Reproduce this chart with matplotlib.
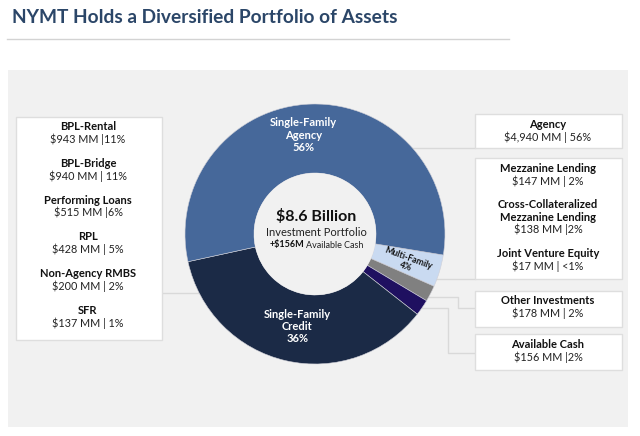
import matplotlib
matplotlib.use('Agg')
import matplotlib.pyplot as plt
from matplotlib.patches import Rectangle
import numpy as np

# ── data ────────────────────────────────────────────────────────────────
slice_names = ['Multi-Family', 'Other Investments', 'Available Cash',
               'Single-Family\nCredit', 'Single-Family\nAgency']
slice_pcts = [4, 2, 2, 36, 56]
slice_colors = ['#C9DAF1', '#808080', '#1F1060', '#1B2A46', '#46689A']

left_names = ['BPL-Rental', 'BPL-Bridge', 'Performing Loans', 'RPL',
              'Non-Agency RMBS', 'SFR']
left_values = ['$943 MM |11%', '$940 MM | 11%', '$515 MM |6%', '$428 MM | 5%',
               '$200 MM | 2%', '$137 MM | 1%']

agency_name, agency_value = 'Agency', '$4,940 MM | 56%'
mf_names = ['Mezzanine Lending', 'Cross-Collateralized\nMezzanine Lending',
            'Joint Venture Equity']
mf_values = ['$147 MM | 2%', '$138 MM |2%', '$17 MM | <1%']
other_name, other_value = 'Other Investments', '$178 MM | 2%'
cash_name, cash_value = 'Available Cash', '$156 MM |2%'

title = 'NYMT Holds a Diversified Portfolio of Assets'
W, H = 640, 436

plt.rcParams['font.family'] = ['Lato', 'DejaVu Sans']

fig = plt.figure(figsize=(W / 100, H / 100), dpi=100)
fig.patch.set_facecolor('white')
ax = fig.add_axes([0, 0, 1, 1])


def Y(py):
    # pixel row (from top) -> data y
    return H - py


LINE = '#D9D9D9'
BOX_EDGE = '#DEDEDE'

# title and rule
ax.text(12, Y(18), title, fontsize=13.8, fontweight='bold', color='#2B4668',
        ha='left', va='center')
ax.plot([7, 509], [Y(39), Y(39)], color='#D3D3D3', lw=1)

# grey panel
ax.add_patch(Rectangle((8, Y(427)), 620, 357, facecolor='#F1F1F1',
                       edgecolor='none', zorder=0))

# connector lines
ax.plot([162, 300], [Y(293), Y(293)], color=LINE, lw=1, zorder=1)
ax.plot([400, 475], [Y(148), Y(148)], color=LINE, lw=1, zorder=1)
ax.plot([400, 475], [Y(279), Y(279)], color=LINE, lw=1, zorder=1)
ax.plot([420, 458, 458, 475], [Y(297), Y(297), Y(308), Y(308)],
        color=LINE, lw=1, zorder=1)
ax.plot([410, 448, 448, 475], [Y(308), Y(308), Y(353), Y(353)],
        color=LINE, lw=1, zorder=1)

# donut
cx, cy, r_out, r_in = 315, Y(234), 130, 61
wedges, _ = ax.pie(slice_pcts, colors=slice_colors, startangle=-9.3,
                   counterclock=False, center=(cx, cy), radius=r_out,
                   wedgeprops=dict(width=r_out - r_in, edgecolor='#D0D0D8',
                                   linewidth=0.4), frame=True)
ax.set_xlim(0, W)
ax.set_ylim(0, H)
ax.set_aspect('equal')
ax.axis('off')
for w in wedges:
    w.set_zorder(2)
ax.add_patch(plt.Circle((cx, cy), r_in, facecolor='#F1F1F1',
                        edgecolor='none', zorder=3))

# slice labels at the middle of each wedge
r_lab = 97
nudge = {'Single-Family\nAgency': (-9, 2), 'Single-Family\nCredit': (4, 2),
         'Multi-Family': (-1, -1)}
for w, name, pct in zip(wedges, slice_names, slice_pcts):
    mid = np.deg2rad((w.theta1 + w.theta2) / 2)
    x, y = cx + r_lab * np.cos(mid), cy + r_lab * np.sin(mid)
    if name not in nudge:
        continue
    dx, dy = nudge[name]
    if name == 'Multi-Family':
        ax.text(x + dx, y + dy, f'{name}\n{pct}%', fontsize=6.3,
                fontweight='bold', color='#111111', ha='center', va='center',
                rotation=-20, linespacing=1.0, zorder=4)
    else:
        ax.text(x + dx, y + dy, f'{name}\n{pct}%', fontsize=8,
                fontweight='bold', color='white', ha='center', va='center',
                linespacing=1.15, zorder=4)

# centre text
ax.text(316, Y(217), '$8.6 Billion', fontsize=11.5, fontweight='bold',
        color='#111111', ha='center', va='center', zorder=4)
ax.text(316, Y(233), 'Investment Portfolio', fontsize=8, color='#222222',
        ha='center', va='center', zorder=4)
ax.text(304, Y(245), '+$156M', fontsize=6.5, fontweight='bold',
        color='#111111', ha='right', va='center', zorder=4)
ax.text(306, Y(245), 'Available Cash', fontsize=6.5, color='#222222',
        ha='left', va='center', zorder=4)


def box(x0, top, x1, bottom):
    ax.add_patch(Rectangle((x0, Y(bottom)), x1 - x0, bottom - top,
                           facecolor='white', edgecolor=BOX_EDGE, lw=1,
                           zorder=2))


def entry(xc, py, name, value, gap=12.3):
    n_lines = name.count('\n') + 1
    ax.text(xc, Y(py), name, fontsize=8, fontweight='bold', color='#111111',
            ha='center', va='top', linespacing=1.2, zorder=4)
    ax.text(xc, Y(py + gap * n_lines), value, fontsize=7.8, color='#222222',
            ha='center', va='top', zorder=4)


# left box
box(16, 117, 162, 340)
for i, (n, v) in enumerate(zip(left_names, left_values)):
    entry(88, 121 + i * 36.8, n, v)

# right boxes
box(475, 114, 622, 148)
entry(548, 119, agency_name, agency_value)

box(475, 158, 622, 279)
mf_tops = [163, 199, 248]
for t, n, v in zip(mf_tops, mf_names, mf_values):
    entry(548, t, n, v)

box(475, 291, 622, 327)
entry(548, 295, other_name, other_value)

box(475, 334, 622, 370)
entry(548, 339, cash_name, cash_value)

fig.savefig('out.png', dpi=100, facecolor='white')
